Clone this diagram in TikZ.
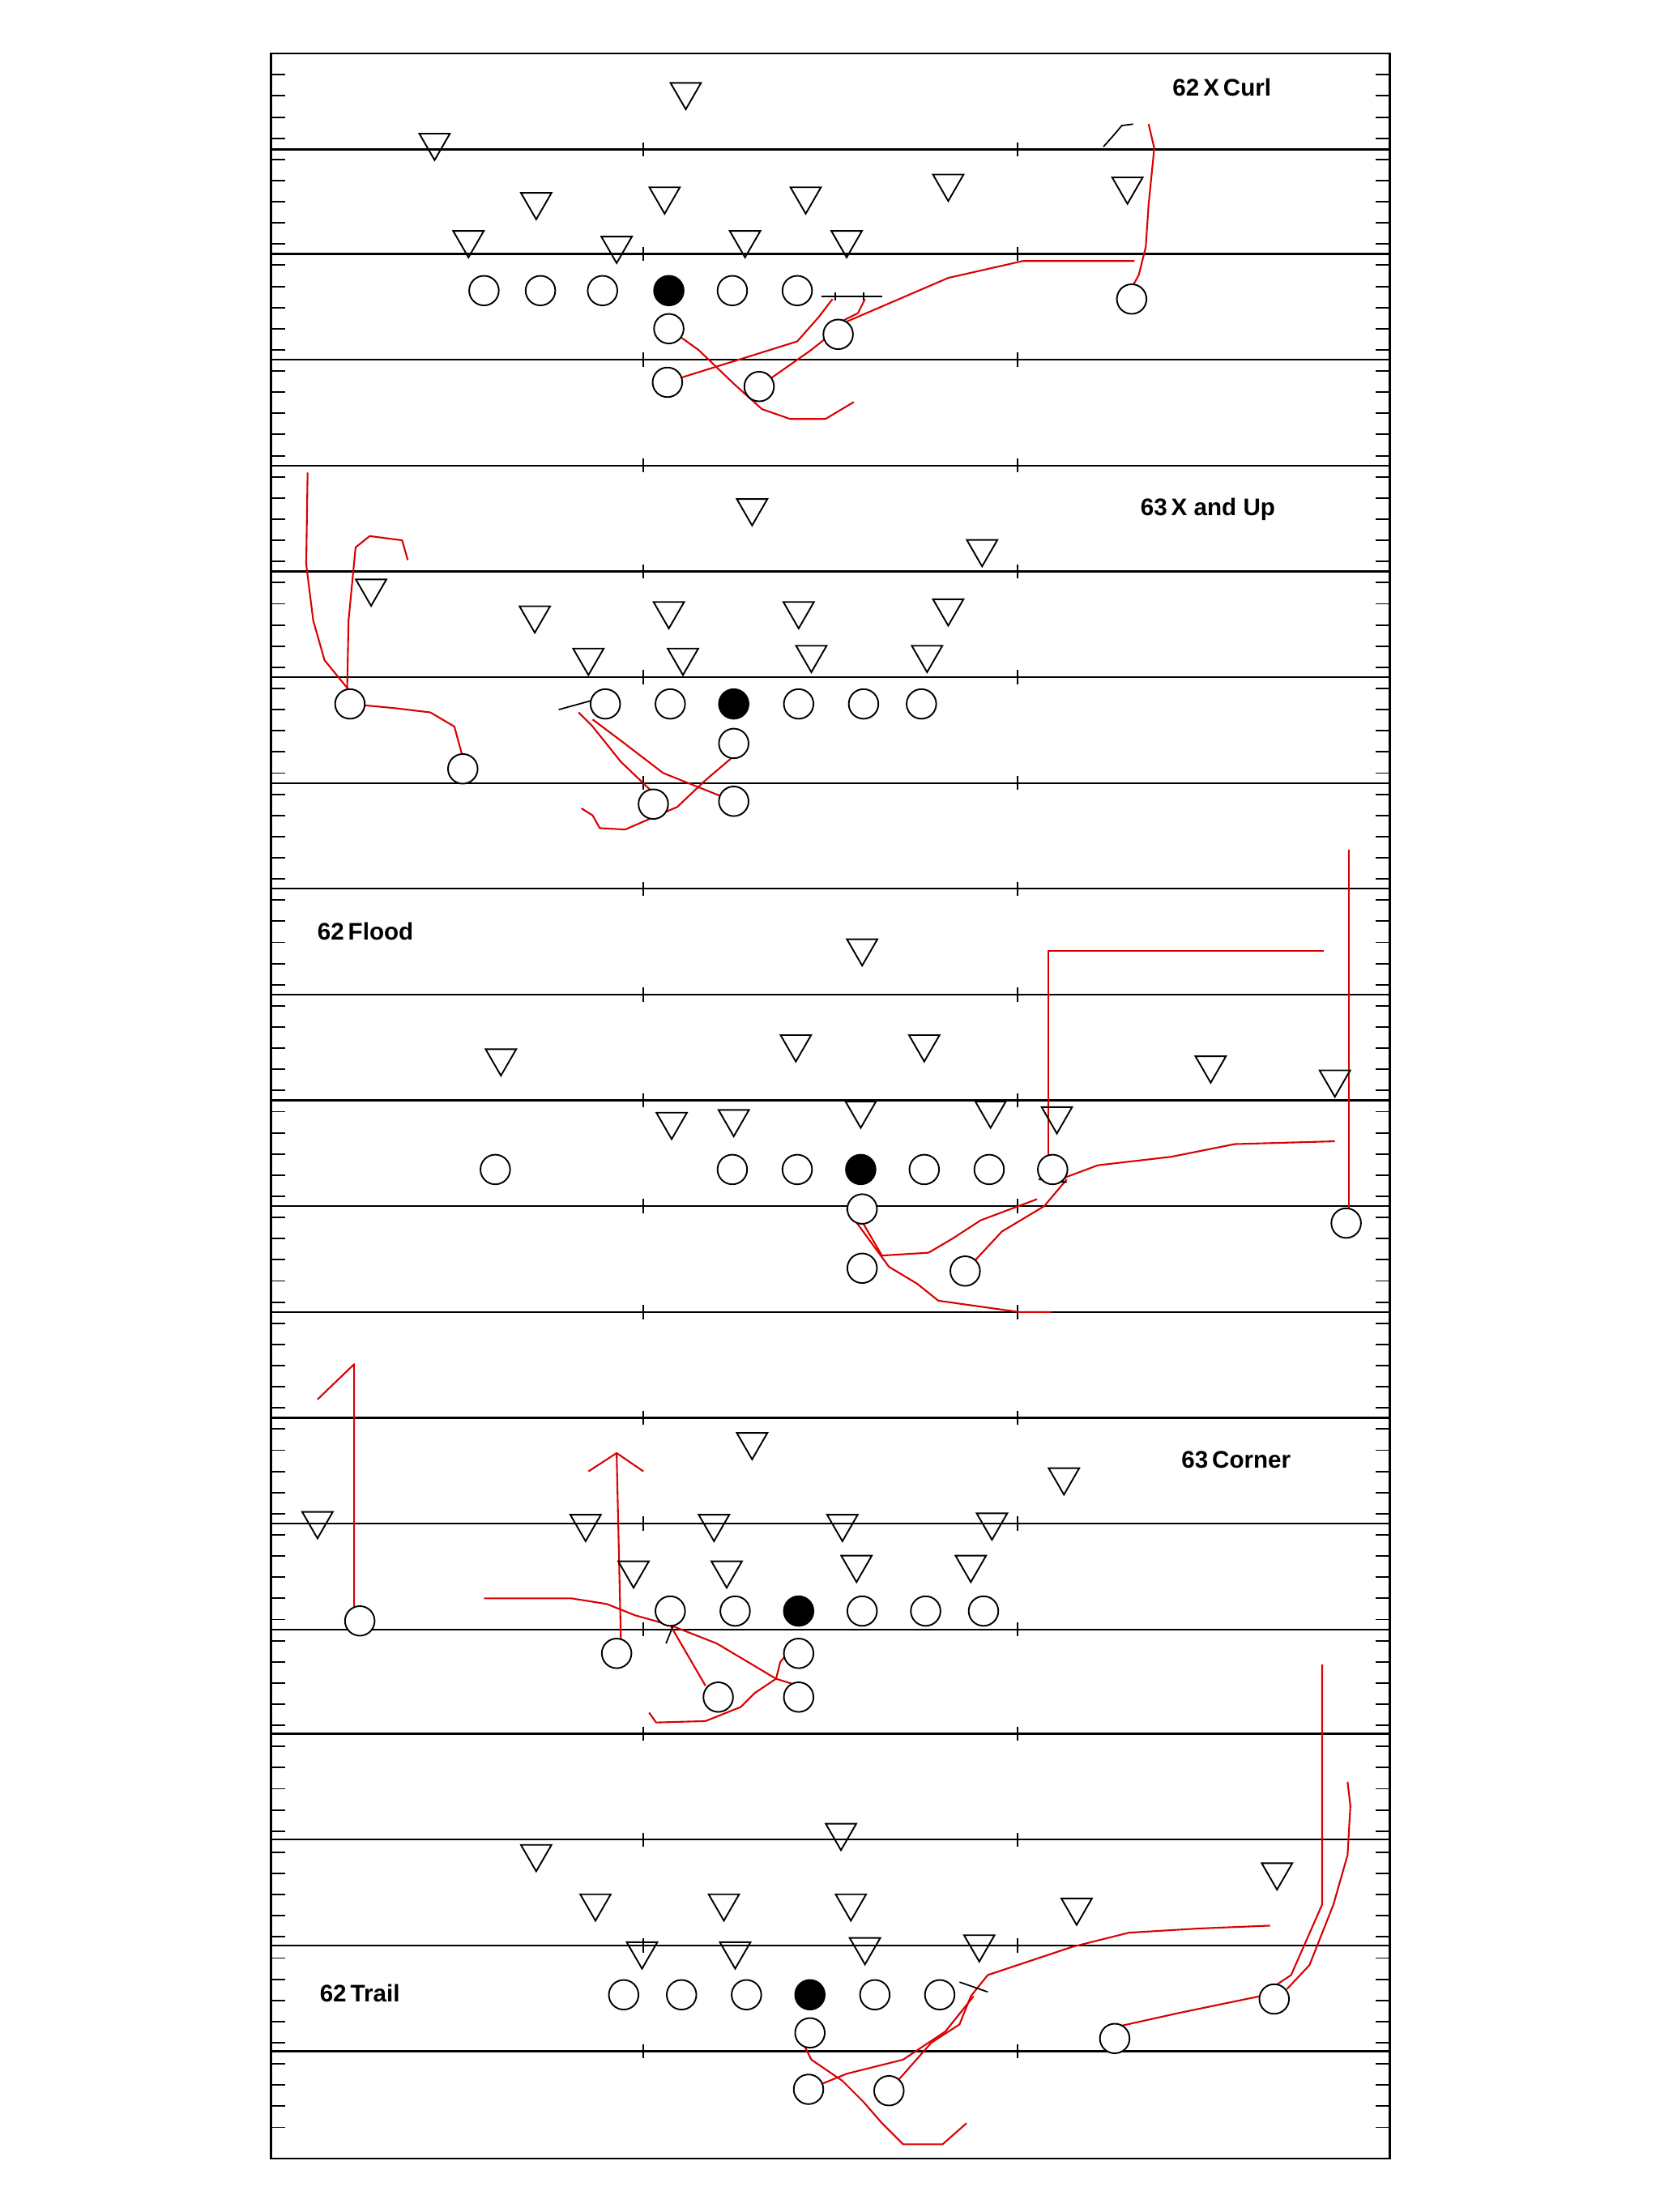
\documentclass[tikz,border=0pt]{standalone}
\usepackage{fontspec}
\setmainfont{Liberation Sans}
\usetikzlibrary{shapes.geometric}
\begin{document}
\begin{tikzpicture}[x=1pt,y=-1pt,
  tri/.style={draw,regular polygon,regular polygon sides=3,shape border rotate=180,minimum size=25pt,inner sep=0pt,line width=1.1pt},
  plr/.style={draw,circle,minimum size=21pt,inner sep=0pt,line width=1.1pt,fill=white},
  ctr/.style={plr,fill=black},
  rt/.style={red!85!black,line width=1.2pt,line join=round},
  bk/.style={black,line width=1pt},
  lbl/.style={font=\bfseries\fontsize{17}{17}\selectfont,inner sep=0pt}]
\useasboundingbox (0,0) rectangle (1176,1568);
\fill[white] (0,0) rectangle (1176,1568);
\draw[line width=1.3pt] (192,38) rectangle (985,1530);
\foreach \y in {106,180,255,330,405,480,555,630,705,780,855,930,1005,1080,1155,1229,1304,1379,1454}{
  \draw[line width=1.3pt] (192,\y) -- (985,\y);
  \draw[line width=1.1pt] (456,\y-5) -- (456,\y+5) (721,\y-5) -- (721,\y+5);}
\foreach \y in {53,68,...,1515}{
  \draw[line width=1.1pt] (192,\y) -- (202,\y) (975,\y) -- (985,\y);}
% labels
\node[lbl] (L1) at (866,62) {62\,X\,Curl};
\node[lbl] (L2) at (856,361) {63\,X and Up};
\node[lbl] (L3) at (259,660) {62\,Flood};
\node[lbl] (L4) at (876,1035) {63\,Corner};
\node[lbl] (L5) at (255,1413) {62\,Trail};
% play1
\draw[rt] (802,204) -- (807,195) -- (812,175) -- (814,145) -- (818,105) -- (814,88);
\draw[bk] (782,104) -- (790,95) -- (795,89) -- (803,88);
\draw[rt] (538,274) -- (575,248) -- (600,228) -- (672,197) -- (725,185) -- (804,185);
\draw[rt] (473,271) -- (485,267) -- (565,242) -- (580,225) -- (590,212);
\draw[rt] (474,233) -- (495,248) -- (520,272) -- (540,290) -- (560,297) -- (585,297) -- (605,285);
\draw[bk] (582,210) -- (625,210) (592,207)--(592,213) (612,207)--(612,213);
\draw[rt] (613,212) -- (608,222) -- (596,228);
% play2
\draw[rt] (218,335) -- (217,400) -- (222,440) -- (230,468) -- (248,490);
\draw[rt] (246,490) -- (247,440) -- (252,388) -- (262,380) -- (285,383) -- (289,397);
\draw[rt] (248,499) -- (280,502) -- (305,505) -- (322,515) -- (328,537);
\draw[rt] (520,536) -- (500,553) -- (480,572) -- (443,588) -- (425,587) -- (420,578) -- (412,573);
\draw[rt] (520,568) -- (470,548) -- (440,525) -- (420,510);
\draw[rt] (463,562) -- (440,540) -- (420,515) -- (410,505);
\draw[bk] (396,503) -- (425,495);
% play3
\draw[rt] (743,820) -- (743,674) -- (938,674);
\draw[rt] (956,602) -- (956,857);
\draw[rt] (746,838) -- (778,826) -- (830,820) -- (875,811) -- (946,809);
\draw[rt] (684,901) -- (710,873) -- (740,855) -- (756,836);
\draw[rt] (611,866) -- (625,890) -- (658,888) -- (675,878) -- (695,865) -- (735,850);
\draw[rt] (600,857) -- (630,898) -- (650,910) -- (665,922) -- (722,930) -- (745,930);
\draw[bk] (736,836) -- (756,838);
% play4
\draw[rt] (251,1140) -- (251,967) -- (225,992);
\draw[rt] (440,1162) -- (437,1030);
\draw[rt] (417,1043) -- (437,1030) -- (456,1043);
\draw[rt] (343,1133) -- (405,1133) -- (430,1137) -- (450,1145) -- (475,1152) -- (508,1165) -- (550,1190) -- (566,1195);
\draw[rt] (475,1152) -- (500,1195);
\draw[rt] (566,1163) -- (553,1178) -- (550,1190) -- (535,1200) -- (525,1210) -- (500,1220) -- (465,1221) -- (460,1214);
\draw[bk] (478,1150) -- (472,1165);
% play5
\draw[rt] (937,1180) -- (937,1350) -- (915,1400) -- (903,1408);
\draw[rt] (955,1263) -- (957,1280) -- (955,1315) -- (945,1350) -- (928,1393) -- (912,1410);
\draw[rt] (790,1437) -- (835,1427) -- (893,1415);
\draw[rt] (630,1482) -- (660,1448) -- (680,1435) -- (688,1415) -- (700,1400) -- (760,1380) -- (800,1370) -- (850,1367) -- (900,1365);
\draw[rt] (573,1481) -- (600,1470) -- (640,1460) -- (670,1440) -- (690,1415);
\draw[rt] (570,1450) -- (575,1460) -- (597,1475) -- (612,1490) -- (625,1505) -- (640,1520) -- (668,1520) -- (685,1505);
\draw[bk] (680,1405) -- (700,1412);
% defenders
\foreach \x/\y [count=\i] in {486/68,308/104,380/146,471/142,571/142,672/133,799/135,332/173,437/177,528/173,600/173,
 533/363,696/392,263/420,379/439,474/436,566/436,672/434,417/469,484/469,575/467,657/467,
 611/675,355/753,564/743,655/743,858/758,946/768,476/798,520/796,610/790,702/790,749/794,
 533/1025,754/1050,225/1081,415/1083,506/1083,597/1083,703/1082,449/1116,515/1116,607/1112,688/1112,
 596/1302,380/1317,905/1330,422/1352,513/1352,603/1352,763/1355,455/1386,521/1386,613/1383,694/1381}
  \node[tri] (d\i) at (\x,\y-3) {};
% offense
\foreach \x/\y [count=\i] in {343/206,383/206,427/206,519/206,565/206,474/233,594/237,473/271,538/274,802/212,
 248/499,429/499,475/499,566/499,612/499,653/499,520/527,328/545,463/570,520/568,
 351/829,519/829,565/829,655/829,701/829,746/829,611/857,954/867,611/899,684/901,
 255/1149,475/1142,521/1142,611/1142,656/1142,697/1142,437/1172,566/1172,509/1203,566/1203,
 442/1414,483/1414,529/1414,620/1414,666/1414,574/1441,790/1445,903/1417,573/1481,630/1482}
  \node[plr] (o\i) at (\x,\y) {};
\foreach \x/\y [count=\i] in {474/206,520/499,610/829,566/1142,574/1414}
  \node[ctr] (c\i) at (\x,\y) {};
\end{tikzpicture}
\end{document}
